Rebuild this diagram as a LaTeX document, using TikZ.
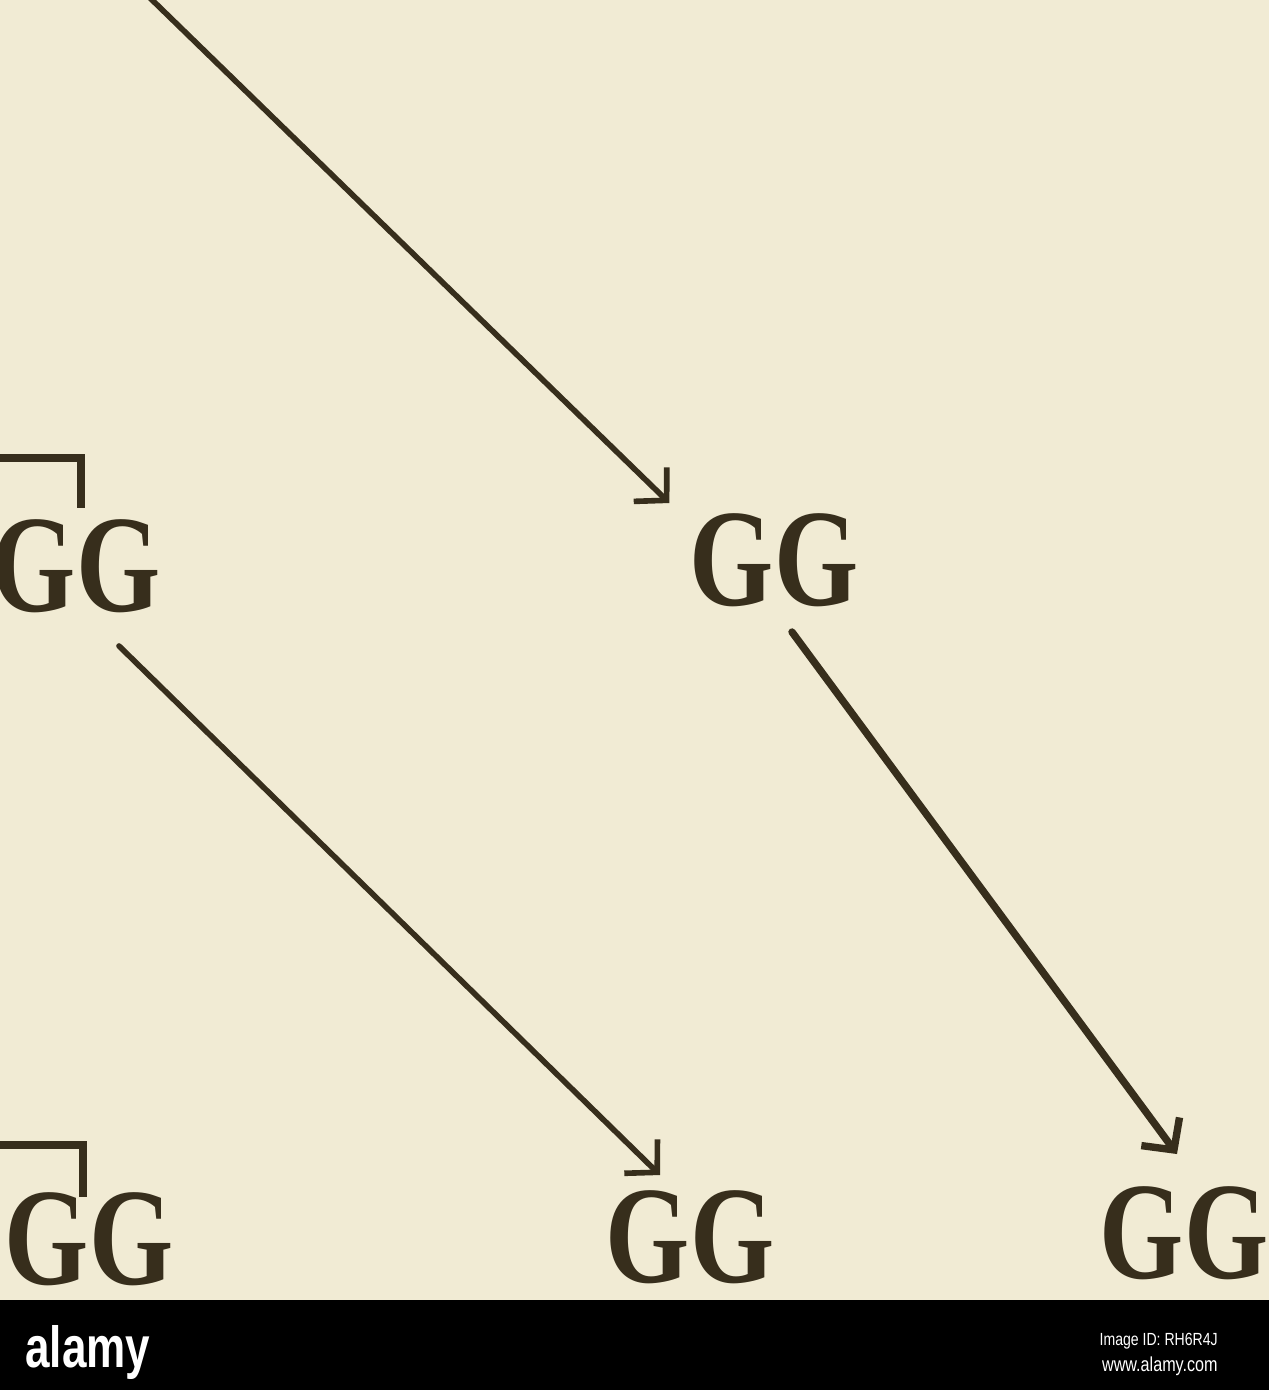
\documentclass[tikz,border=0pt]{standalone}
\usepackage{fontspec}
\usepackage{graphicx}
\usetikzlibrary{arrows.meta}
\newfontfamily\typew{Liberation Serif}
\newfontfamily\logofont{Liberation Sans}
\definecolor{paper}{RGB}{241,235,212}
\definecolor{ink}{RGB}{55,46,28}
\newcommand{\gpair}{\scalebox{0.78}[1]{GG}}
\begin{document}
\begin{tikzpicture}[x=0.02cm,y=-0.02cm,
  gg/.style={inner sep=0pt,text=ink,font=\typew\bfseries\fontsize{79}{79}\selectfont},
  arr/.style={draw=ink,line width=3.2pt,line cap=round,-{Straight Barb[length=13pt,width=27pt]}},
  bracket/.style={draw=ink,line width=5pt},
  wm/.style={inner sep=0pt,text=white}]
\fill[paper] (0,0) rectangle (1269,1390);
\useasboundingbox (0,0) rectangle (1269,1390);
\clip (0,0) rectangle (1269,1390);
% letter pairs
\node[gg] (TL) at (76,566) {\gpair};
\node[gg] (TM) at (774,560) {\gpair};
\node[gg] (BL) at (89,1239) {\gpair};
\node[gg] (BM) at (690,1237) {\gpair};
\node[gg] (BR) at (1184,1233) {\gpair};
% brackets
\draw[bracket] (-5,458) -| (81,508);
\draw[bracket] (-5,1145) -| (83,1197);
% connectors
\coordinate (topstart) at (147,-5);
\draw[arr] (topstart) -- ([shift={(-20,-10)}]TM.north west);
\draw[arr] ([shift={(43,33)}]TL.south) -- ([shift={(-30,-15)}]BM.north);
\draw[arr,line width=4.2pt] ([shift={(18,25)}]TM.south) -- ([shift={(-7,-32)}]BR.north);
% bottom band
\fill[black] (0,1300) rectangle (1269,1390);
\node[wm,anchor=west,font=\logofont\bfseries\fontsize{33}{33}\selectfont] (logo) at (25,1352) {\scalebox{0.76}[1]{alamy}};
\node[wm,anchor=east,font=\logofont\fontsize{10}{10}\selectfont] (imgid) at (1218,1341) {\scalebox{0.8}[1]{Image ID: RH6R4J}};
\node[wm,anchor=east,font=\logofont\fontsize{11.5}{11.5}\selectfont] (url) at (1218,1366) {\scalebox{0.8}[1]{www.alamy.com}};
\end{tikzpicture}
\end{document}
